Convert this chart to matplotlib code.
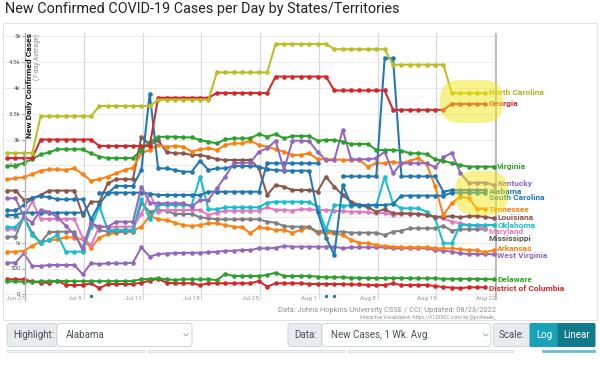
import numpy as np
import pandas as pd
import matplotlib
matplotlib.use('Agg')
import matplotlib.pyplot as plt
import matplotlib.dates as mdates
from matplotlib.patches import FancyBboxPatch, Rectangle
from matplotlib.lines import Line2D

nan = np.nan
start_date = '2022-06-26'
tick_labels = ['Jun 27', 'Jul 4', 'Jul 11', 'Jul 18', 'Jul 25', 'Aug 1', 'Aug 8', 'Aug 15', 'Aug 22']
tick_dates = ['2022-06-27', '2022-07-04', '2022-07-11', '2022-07-18', '2022-07-25',
              '2022-08-01', '2022-08-08', '2022-08-15', '2022-08-22']
y_ticks = [0, 500, 1000, 1500, 2000, 2500, 3000, 3500, 4000, 4500, 5000]
y_tick_labels = ['0', '500', '1k', '1.5k', '2k', '2.5k', '3k', '3.5k', '4k', '4.5k', '5k']

north_carolina = [2740, 2740, 2740, 2740, 3450, 3450, 3450, 3450, 3450, 3450,
                  3450, 3650, 3650, 3650, 3650, 3650, 3650, 3650, 3770, 3770,
                  3770, 3770, 3770, 3770, 3770, 4300, 4300, 4300, 4300, 4300,
                  4300, 4300, 4850, 4850, 4850, 4850, 4850, 4850, 4850, 4750,
                  4750, 4750, 4750, 4750, 4750, 4750, 4450, 4450, 4450, 4450,
                  4450, 4450, 4450, 3900, 3900, 3900, 3900, 3900]
georgia = [2640, 2640, 2640, 2640, 3000, 3000, 3000, 3000, 3000, 3000,
           3000, 2875, 2875, 2875, 2875, 2875, 2875, 2875, 3810, 3810,
           3810, 3810, 3810, 3810, 3810, 3900, 3900, 3900, 3900, 3900,
           3900, 3900, 4220, 4220, 4220, 4220, 4220, 4220, 4220, 3950,
           3950, 3950, 3950, 3950, 3950, 3950, 3575, 3575, 3575, 3575,
           3575, 3575, 3575, 3690, 3690, 3690, 3690, 3690]
virginia = [2490, 2490, 2550, 2620, 2710, 2750, 2810, 2810, 2810, 2810,
            2730, 2670, 2640, 2640, 2640, 2640, 2800, 2950, 3050, 3054,
            3054, 3041, 3041, 2990, 2957, 2925, 3002, 3022, 3022, 3022,
            3106, 3054, 3106, 3022, 3067, 3067, 3067, 2977, 2990, 2990,
            2957, 2913, 2913, 2913, 2797, 2797, 2797, 2784, 2733, 2733,
            2720, 2616, 2590, 2540, 2506, 2473, 2473, 2473, 2473]
kentucky = [1860, 1860, 1504, 1390, 1634, 1600, 1490, 1330, 1150, 900,
            1376, 1310, 1310, 1407, 1407, 1407, 2085, 1775, 1763, 1763,
            1763, 1763, 1698, 1828, 1828, 2054, 2279, 2539, 2550, 2550,
            2764, 2829, 2977, 2408, 2977, 2977, 2967, 2760, 2600, 2603,
            3184, 2616, 2616, 2616, 2636, 2764, 2345, 2539, 2539, 2539,
            2539, 2461, 2655, 2744, 2357, 2163, 2163, 2163, 2118]
alabama = [1537, 1537, 1582, 1582, 1582, 1582, 1582, 1582, 1582, 1582,
           nan, 1969, 1969, 1969, 1969, 1969, 1969, 1950, 1924, 1924,
           1924, 1924, 1924, 1924, 1988, 1988, 1988, 1988, 1988, 1988,
           1988, 2539, 2539, 2539, 2539, 2539, 2539, 2539, nan, nan,
           2285, 2285, 2285, 2285, 2285, 4574, 4574, 2285, 2285, 2285,
           2285, 2285, 1990, 2021, 2021, 2021, 2021, 2021]
south_carolina = [1625, 1625, 1731, 1860, 1905, 1880, 1841, 1841, 1841, 1841,
                  1450, 1750, 1960, 2100, 2100, 2100, 2410, 3890, 2440, 2441,
                  2408, 2376, 2376, 2590, 2408, 2441, 2441, 2486, 2486, 2486,
                  2473, 2422, 2408, 2395, 2395, 2395, 2395, 1600, 1100, 762,
                  2118, 1731, 1731, 1731, 1731, 1731, 1750, 1912, 1912, 1912,
                  1912, 1912, 1912, 1969, 1969, 1969, 1969, 1969]
tennessee = [2230, 2250, 2270, 2330, 2395, 2420, 2420, 2410, 2440, 2330,
             2200, 2230, 2280, 2345, 2410, 2455, 2730, 2800, 2890, 2861,
             2874, 2861, 2764, 2810, 2829, 2797, 2894, 2926, 2926, 2977,
             2894, 2861, 2810, 2764, 2700, 2700, 2733, 2616, 2616, 2616,
             2603, 2603, 2603, 2473, 2539, 2539, 2570, 2539, 2590, 2636,
             2520, 2100, 1530, 1770, 1890, 1870, 1660, 1660]
louisiana = [2010, 2010, 1830, 1860, 1925, 2010, 2010, 2010, 2010, 1540,
             1795, 1795, 2150, 2230, 2230, 2230, 3050, 2900, 2990, 2760,
             2733, 2733, 2700, 2700, 2667, 2616, 2603, 2603, 2603, 2603,
             2441, 1924, 2118, 2085, 2021, 2021, 2021, 1988, 2279, 2085,
             1924, 1795, 1731, 1686, 1601, 1647, 1570, 1570, 1560, 1560,
             1537, 1504, 1504, 1515, 1495, 1515, 1515, 1500, 1473]
oklahoma = [1300, 1300, 1490, 1150, 1000, 1052, 1149, 826, 826, 826,
            1300, 1700, 1250, 1250, 1250, 1250, 1850, 1450, 1730, 1731,
            1731, 1731, 1731, 2279, 1647, 1647, 1686, 1686, 1686, 1686,
            1686, 1775, 1795, 1795, 1795, 1795, 1785, 1700, 1246, 1731,
            1720, 1720, 1720, 1720, 1720, 2270, 1760, 1667, 1667, 1667,
            1600, 1473, 988, 988, 1343, 1343, 1343, 1343, 1343]
maryland = [1260, 1260, 1500, 1800, 1460, 1460, 1460, 1460, 1460, 1100,
            950, 1320, 1300, 1310, 1310, 1310, 1550, 1950, 1600, 1634,
            1634, 1634, 1634, 1634, 1537, 1582, 1620, 1620, 1620, 1620,
            1620, 1686, 1634, 1634, 1620, 1647, 1647, 1634, 1634, 1620,
            1610, 1601, 1601, 1590, 1570, 1580, 1537, 1560, 1570, 1556,
            1537, 1504, 1470, 1410, 1376, 1343, 1320, 1290]
mississippi = [1116, 1116, 1504, 1182, 1000, 1200, 1213, 1213, 1213, 850,
               1400, 1246, 1213, 1213, 1213, 1213, 1763, 1601, 1634, 1620,
               1556, 1556, 1556, 1492, 1473, 1453, 1453, 1453, 1453, 1453,
               1453, 1407, 1388, 1323, 1310, 1310, 1310, 1213, 1246, 1213,
               1213, 1194, 1194, 1194, 1194, 1149, 1213, 1233, 1279, 1279,
               1279, 1279, 1323, 1233, 1259, 1259, 1259, 1259]
arkansas = [826, 826, 840, 940, 1020, 1045, 1065, 1104, 1100, 1066,
            900, 1100, 1160, 1190, 1215, 1233, 1310, 1520, 1453, 1440,
            1388, 1343, 1323, 1343, 1376, 1376, 1343, 1310, 1298, 1182,
            1298, 1279, 1246, 1246, 1194, 1246, 1298, 1182, 1190, 1182,
            1149, 1052, 1000, 988, 955, 936, 923, 910, 910, 910,
            910, 891, 891, 891, 872, 858, 850, 815, 858]
west_virginia = [613, 613, 795, 548, 548, 568, 568, 568, 568, 388,
                 600, 587, 600, 600, 600, 613, 910, 729, 781, 790,
                 800, 800, 806, 806, 815, 826, 840, 845, 858, 858,
                 891, 891, 900, 936, 923, 923, 923, 923, 923, 923,
                 891, 910, 910, 910, 910, 910, 891, 891, 891, 891,
                 891, 858, 845, 826, 795, 781, 781, 781, 775]
delaware = [250, 250, 245, 240, 250, 255, 260, 255, 255, 255,
            255, 255, 255, 255, 255, 260, 290, 300, 310, 290,
            277, 290, 290, 290, 290, 277, 393, 355, 355, 355,
            355, 374, 419, 355, 355, 355, 355, 342, 329, 330,
            330, 320, 320, 315, 315, 315, 315, 315, 310, 310,
            310, 310, 300, 300, 300, 300, 300, 295, 290]
district_of_columbia = [290, 290, 290, 250, 225, 225, 264, 180, 180, 180,
                        213, 116, 200, 200, 200, 200, 225, 264, 300, 225,
                        213, 213, 213, 180, 213, 213, 213, 213, 213, 213,
                        258, 148, 213, 213, 213, 213, 200, 200, 200, 200,
                        200, 190, 190, 180, 180, 180, 210, 180, 180, 180,
                        180, 160, 140, 130, 120, 135, 135, 135]

names = ['North Carolina', 'Georgia', 'Virginia', 'Kentucky', 'Alabama', 'South Carolina',
         'Tennessee', 'Louisiana', 'Oklahoma', 'Maryland', 'Mississippi', 'Arkansas',
         'West Virginia', 'Delaware', 'District of Columbia']
series = [north_carolina, georgia, virginia, kentucky, alabama, south_carolina,
          tennessee, louisiana, oklahoma, maryland, mississippi, arkansas,
          west_virginia, delaware, district_of_columbia]
colors = ['#bcbd22', '#d62728', '#2ca02c', '#9467bd', '#1f77b4', '#1f77b4',
          '#ff7f0e', '#8c564b', '#17becf', '#e377c2', '#7f7f7f', '#ff7f0e',
          '#9467bd', '#2ca02c', '#d62728']
label_colors = ['#b3b41f', '#d62728', '#2ca02c', '#9467bd', '#1f77b4', '#1f77b4',
                '#ff7f0e', '#8c564b', '#17becf', '#e377c2', '#555555', '#ff7f0e',
                '#9467bd', '#2ca02c', '#d62728']
# label positions (de-overlapped, data units)
label_y = [3915, 3694, 2473, 2140, 1995, 1875, 1653, 1490, 1335, 1215, 1090, 880, 755, 291, 116]

# ---------------- layout helpers ----------------
W, H = 600, 386
PX_DAY = 8.39
X_FIRST = 7.1       # pixel of first date
Y0, PPU = 294.3, 0.0516

fig = plt.figure(figsize=(W / 100, H / 100), dpi=100)
fig.patch.set_facecolor('white')
plt.rcParams['font.family'] = ['Roboto', 'DejaVu Sans']

L, R, T, B = 4, 497, 33, 300
ax = fig.add_axes([L / W, 1 - B / H, (R - L) / W, (B - T) / H])
ax.set_facecolor('white')
d0 = mdates.date2num(pd.Timestamp(start_date))
ax.set_xlim(d0 + (L - X_FIRST) / PX_DAY, d0 + (R - X_FIRST) / PX_DAY)
ax.set_ylim((Y0 - B) / PPU, (Y0 - T) / PPU)
ax.set_axisbelow(True)

dates = pd.date_range(start_date, periods=59, freq='D')
xs = mdates.date2num(dates.to_pydatetime())

for s in ['top', 'right', 'bottom']:
    ax.spines[s].set_visible(False)
ax.spines['left'].set_position(('data', d0 + (25 - X_FIRST) / PX_DAY))
ax.spines['left'].set_color('#b0b0b0')
ax.spines['left'].set_linewidth(0.9)

ax.set_yticks(y_ticks)
ax.set_yticklabels(y_tick_labels)
ax.tick_params(axis='y', length=2.2, width=0.6, color='#999999', pad=1,
               labelsize=4.4, labelcolor='#555555')
ax.yaxis.grid(True, color='#ebebeb', lw=0.7)

tick_x = mdates.date2num(pd.to_datetime(tick_dates).to_pydatetime())
ax.set_xticks(tick_x)
ax.set_xticklabels(tick_labels)
ax.tick_params(axis='x', length=0, pad=-2.6, labelsize=4.4, labelcolor='#9a9a9a')
for tx in tick_x:
    ax.axvline(tx + 1.15, color='#dadada', lw=0.9, zorder=0.6)
ax.axvline(d0 + (496 - X_FIRST) / PX_DAY, color='#b4b4b4', lw=1.2, zorder=0.6)

order = list(range(len(series)))[::-1]
for k in order:
    v = np.array(series[k], dtype=float)
    n = len(v)
    ax.plot(xs[:n], v, color=colors[k], lw=1.45, marker='o', ms=3.3, mew=0,
            zorder=2 + (len(series) - k) * 0.01, solid_joinstyle='round')
    ax.annotate(names[k], xy=(xs[n - 1], label_y[k]), xytext=(2.6, 0),
                textcoords='offset points', va='center', ha='left',
                fontsize=6.0, fontweight='bold', color=label_colors[k],
                annotation_clip=False)

# missing-data markers
al = np.array(alabama, dtype=float)
gap = np.isnan(al)
ax.scatter(xs[:len(al)][gap], np.full(gap.sum(), -35.0), s=6, color='#1f77b4',
           zorder=3, clip_on=False, linewidths=0)

# ---------------- overlay (pixel coords, y down) ----------------
ui = fig.add_axes([0, 0, 1, 1], zorder=5)
ui.set_xlim(0, W)
ui.set_ylim(H, 0)
ui.axis('off')
ui.patch.set_alpha(0)

def rbox(x0, y0, x1, y1, fc, ec, r=3, lw=0.7, alpha=1.0, z=1):
    p = FancyBboxPatch((x0, y0), x1 - x0, y1 - y0,
                       boxstyle=f'round,pad=0,rounding_size={r}',
                       fc=fc, ec=ec, lw=lw, alpha=alpha, zorder=z)
    ui.add_patch(p)

# card border
ui.add_patch(Rectangle((3, 22.5), 594, 297.5, fc='none', ec='#e2e2e2', lw=0.8))

# glows
rbox(440, 80, 503, 123, '#f0e619', 'none', r=20, lw=0, alpha=0.5, z=3)
rbox(455, 171, 508, 215, '#f0e619', 'none', r=20, lw=0, alpha=0.5, z=3)

ui.text(5, 9, 'New Confirmed COVID-19 Cases per Day by States/Territories',
        fontsize=10.4, color='#222222', va='center', ha='left')

ui.text(29.5, 33.5, 'New Daily Confirmed Cases', rotation=90, va='top', ha='center',
        fontsize=6.1, fontweight='bold', color='#111111')
ui.text(37.5, 33.5, '(7-day Average)', rotation=90, va='top', ha='center',
        fontsize=4.8, color='#8a8a8a')

ui.text(496, 310.5, 'Data: Johns Hopkins University CSSE / CCI; Updated: 08/23/2022',
        fontsize=5.4, color='#8f8f8f', ha='right', va='center')
ui.text(496, 316.8, 'Interactive Visualization: https://91-DIVOC.com/ by @profwade_',
        fontsize=3.4, color='#8f8f8f', ha='right', va='center')

# controls
cy0, cy1, cm = 323.5, 346.5, 335
rbox(7, cy0, 57, cy1, '#e9ecef', '#ced4da')
rbox(57, cy0, 192, cy1, 'white', '#ced4da')
ui.text(13, cm, 'Highlight:', fontsize=7, color='#495057', va='center')
ui.text(66, cm, 'Alabama', fontsize=7, color='#495057', va='center')
rbox(288, cy0, 322, cy1, '#e9ecef', '#ced4da')
rbox(322, cy0, 491, cy1, 'white', '#ced4da')
ui.text(294, cm, 'Data:', fontsize=7, color='#495057', va='center')
ui.text(331, cm, 'New Cases, 1 Wk. Avg.', fontsize=7, color='#495057', va='center')
for cx in (186, 486):
    ui.add_line(Line2D([cx - 2.2, cx, cx + 2.2], [333.8, 336.0, 333.8], color='#999999', lw=0.6))
rbox(493.5, cy0, 530, cy1, '#e9ecef', '#ced4da')
ui.text(499, cm, 'Scale:', fontsize=7, color='#495057', va='center')
rbox(530, cy0, 558, cy1, '#17a2b8', '#17a2b8', r=1)
rbox(558, cy0, 595, cy1, '#117a8b', '#117a8b', r=1)
ui.text(544, cm, 'Log', fontsize=7, color='white', va='center', ha='center')
ui.text(576.5, cm, 'Linear', fontsize=7, color='white', va='center', ha='center')

# second row (cut off)
for (a, b, fc, ec) in [(7, 144, '#f1f3f5', '#ced4da'), (148, 344, '#f1f3f5', '#ced4da'),
                       (348, 513, '#f1f3f5', '#ced4da'), (542, 595, '#5bc0d0', '#5bc0d0')]:
    ui.add_patch(Rectangle((a, 349.5), b - a, 2.0, fc=fc, ec=ec, lw=0.5))

fig.savefig('out.png', dpi=100)
